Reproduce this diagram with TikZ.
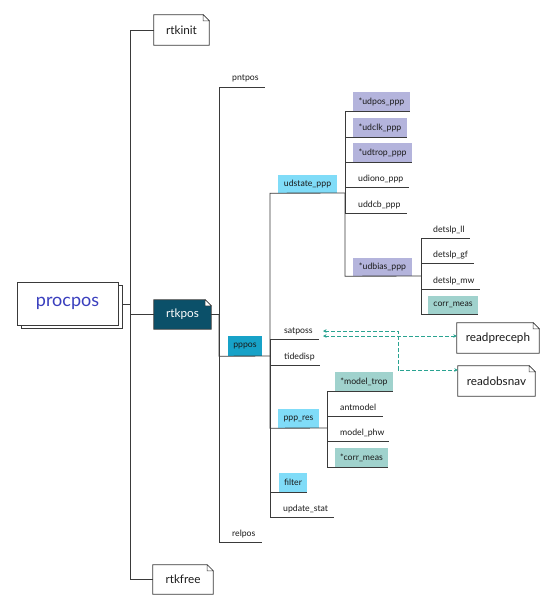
\documentclass[tikz,border=0pt]{standalone}
\usepackage{fontspec}
\setmainfont{Lato}
\usetikzlibrary{backgrounds,arrows.meta}
\definecolor{linec}{HTML}{3A3A3A}
\definecolor{txt}{HTML}{1A1A1A}
\definecolor{rtkc}{HTML}{0B5069}
\definecolor{pppc}{HTML}{17A2C8}
\definecolor{lblue}{HTML}{80DCF8}
\definecolor{lav}{HTML}{B4B4DC}
\definecolor{teal}{HTML}{A0D2CD}
\definecolor{relc}{HTML}{2AA391}
\definecolor{rootc}{HTML}{3A3FBE}
\newcommand\foldframe[3]{% name, fill, fold fill
  \filldraw[draw=linec, line width=0.7pt, fill=#2] (#1.south west) -- (#1.north west) -- ([xshift=-6pt]#1.north east) -- ([yshift=-6pt]#1.north east) -- (#1.south east) -- cycle;
  \filldraw[draw=linec, line width=0.5pt, fill=#3] ([xshift=-6pt]#1.north east) -- ([xshift=-6pt,yshift=-6pt]#1.north east) -- ([yshift=-6pt]#1.north east) -- cycle;}
\begin{document}
\begin{tikzpicture}[x=1pt,y=-1pt,
  ln/.style={draw=linec, line width=0.85pt},
  sm/.style={font=\fontsize{8.7}{10}\selectfont, text=txt, inner sep=0pt},
  lbl/.style={sm, anchor=base west},
  bx/.style={sm, minimum height=19},
  topic/.style={font=\fontsize{11.7}{13}\selectfont, text=txt, inner sep=0pt},
  rel/.style={draw=relc, line width=0.7pt, dash pattern=on 4pt off 2pt, {Stealth[length=3.5pt,width=3.5pt]}-{Stealth[length=3.5pt,width=3.5pt]}}]
\useasboundingbox (0,0) rectangle (554,610);
\fill[white] (0,0) rectangle (554,610);

% ---- root
\draw[linec, line width=0.7pt, fill=white] (21,285) rectangle (122,328);
\node[draw=linec, line width=0.7pt, fill=white, minimum width=101, minimum height=43, inner sep=0pt,
  font=\fontsize{18}{20}\selectfont, text=rootc] (procpos) at (67.5,303.5) {procpos};
\coordinate (procR) at (122,304);
\coordinate (rootJ) at (130,304);

% ---- level 1
\node[topic, minimum width=55, minimum height=30] (rtkinit) at (181.5,30) {};
\foldframe{rtkinit}{white}{white}
\node[topic] at (rtkinit) {rtkinit};
\node[topic, minimum width=57, minimum height=29] (rtkpos) at (182.5,314.5) {};
\foldframe{rtkpos}{rtkc}{white}
\node[topic, text=white] at (rtkpos) {rtkpos};
\node[topic, minimum width=60, minimum height=29] (rtkfree) at (183,579.5) {};
\foldframe{rtkfree}{white}{white}
\node[topic] at (rtkfree) {rtkfree};

\draw[ln] (procR) -- (rootJ);
\draw[ln] (rootJ) |- (rtkinit.west);
\draw[ln] (rootJ) |- (rtkpos.west);
\draw[ln] (rootJ) |- (rtkfree.west);

% ---- rtkpos children
\coordinate (rtkJ) at (219,314.5);
\draw[ln] (rtkpos.east) -- (rtkJ);
\node[lbl] (pntpos) at (232,81) {pntpos};
\coordinate (pntposE) at (265,87);
\draw[ln] (rtkJ) |- (pntposE);
\node[bx, fill=pppc, minimum width=34, minimum height=20] (pppos) at (245,346) {pppos};
\coordinate (pppJ) at (270,356);
\draw[ln] (rtkJ) |- (pppos.south west) -- (pppJ);
\node[lbl] (relpos) at (232,536) {relpos};
\coordinate (relposE) at (262,542);
\draw[ln] (rtkJ) |- (relposE);

% ---- pppos children
\node[bx, fill=lblue, minimum width=59, minimum height=18] (udstate) at (307.5,184) {udstate\_ppp};
\coordinate (udsJ) at (345,193);
\draw[ln] (pppJ) |- (udstate.south west) -- (udsJ);
\node[lbl] (satposs) at (284,333) {satposs};
\coordinate (satpossE) at (319,339);
\draw[ln] (pppJ) |- (satpossE);
\node[lbl] (tidedisp) at (284,359) {tidedisp};
\coordinate (tidedispE) at (320,365);
\draw[ln] (pppJ) |- (tidedispE);
\node[bx, fill=lblue, minimum width=41] (pppres) at (298.5,418.5) {ppp\_res};
\coordinate (resJ) at (327,428);
\draw[ln] (pppJ) |- (pppres.south west) -- (resJ);
\node[bx, fill=lblue, minimum width=28] (filter) at (293,482.5) {filter};
\draw[ln] (pppJ) |- (filter.south east);
\node[lbl] (updstat) at (283,511) {update\_stat};
\coordinate (updstatE) at (334,517);
\draw[ln] (pppJ) |- (updstatE);

% ---- udstate_ppp children
\node[bx, fill=lav, minimum width=57] (udpos) at (381.5,101.5) {*udpos\_ppp};
\draw[ln] (udsJ) |- (udpos.south east);
\node[bx, fill=lav, minimum width=54] (udclk) at (380,127.5) {*udclk\_ppp};
\draw[ln] (udsJ) |- (udclk.south east);
\node[bx, fill=lav, minimum width=59] (udtrop) at (382.5,152.5) {*udtrop\_ppp};
\draw[ln] (udsJ) |- (udtrop.south east);
\node[lbl] (udiono) at (358,181) {udiono\_ppp};
\coordinate (udionoE) at (409,187);
\draw[ln] (udsJ) |- (udionoE);
\node[lbl] (uddcb) at (358,207) {uddcb\_ppp};
\coordinate (uddcbE) at (407,213);
\draw[ln] (udsJ) |- (uddcbE);
\node[bx, fill=lav, minimum width=59, minimum height=18] (udbias) at (382.5,267) {*udbias\_ppp};
\coordinate (biasJ) at (421,276);
\draw[ln] (udsJ) |- (udbias.south west) -- (biasJ);

% ---- udbias children
\node[lbl] (dll) at (433,232) {detslp\_ll};
\coordinate (dllE) at (470,238);
\draw[ln] (biasJ) |- (dllE);
\node[lbl] (dgf) at (433,257) {detslp\_gf};
\coordinate (dgfE) at (474,263);
\draw[ln] (biasJ) |- (dgfE);
\node[lbl] (dmw) at (433,283) {detslp\_mw};
\coordinate (dmwE) at (480,289);
\draw[ln] (biasJ) |- (dmwE);
\node[bx, fill=teal, minimum width=50, minimum height=18] (corr1) at (453,305) {corr\_meas};
\draw[ln] (biasJ) |- (corr1.south east);

% ---- ppp_res children
\node[bx, fill=teal, minimum width=58] (mtrop) at (364,381.5) {*model\_trop};
\draw[ln] (resJ) |- (mtrop.south east);
\node[lbl] (antm) at (340,410) {antmodel};
\coordinate (antmE) at (383,416);
\draw[ln] (resJ) |- (antmE);
\node[lbl] (mphw) at (340,435) {model\_phw};
\coordinate (mphwE) at (389,441);
\draw[ln] (resJ) |- (mphwE);
\node[bx, fill=teal, minimum width=53] (corr2) at (361.5,457.5) {*corr\_meas};
\draw[ln] (resJ) |- (corr2.south east);

% ---- external functions
\node[topic, minimum width=82, minimum height=30] (rpe) at (498,338) {};
\foldframe{rpe}{white}{white}
\node[topic] at (rpe) {readpreceph};
\node[topic, minimum width=77, minimum height=30] (rob) at (496.5,381) {};
\foldframe{rob}{white}{white}
\node[topic] at (rob) {readobsnav};

% ---- relationships
\coordinate (sp1) at (323,336);
\coordinate (sp2) at (323,331);
\coordinate (kn) at (398,331);
\draw[rel] (sp1) -- (sp1 -| rpe.west);
\draw[rel] (sp2) -- (kn) |- ([yshift=11pt]rob.west);
\end{tikzpicture}
\end{document}
